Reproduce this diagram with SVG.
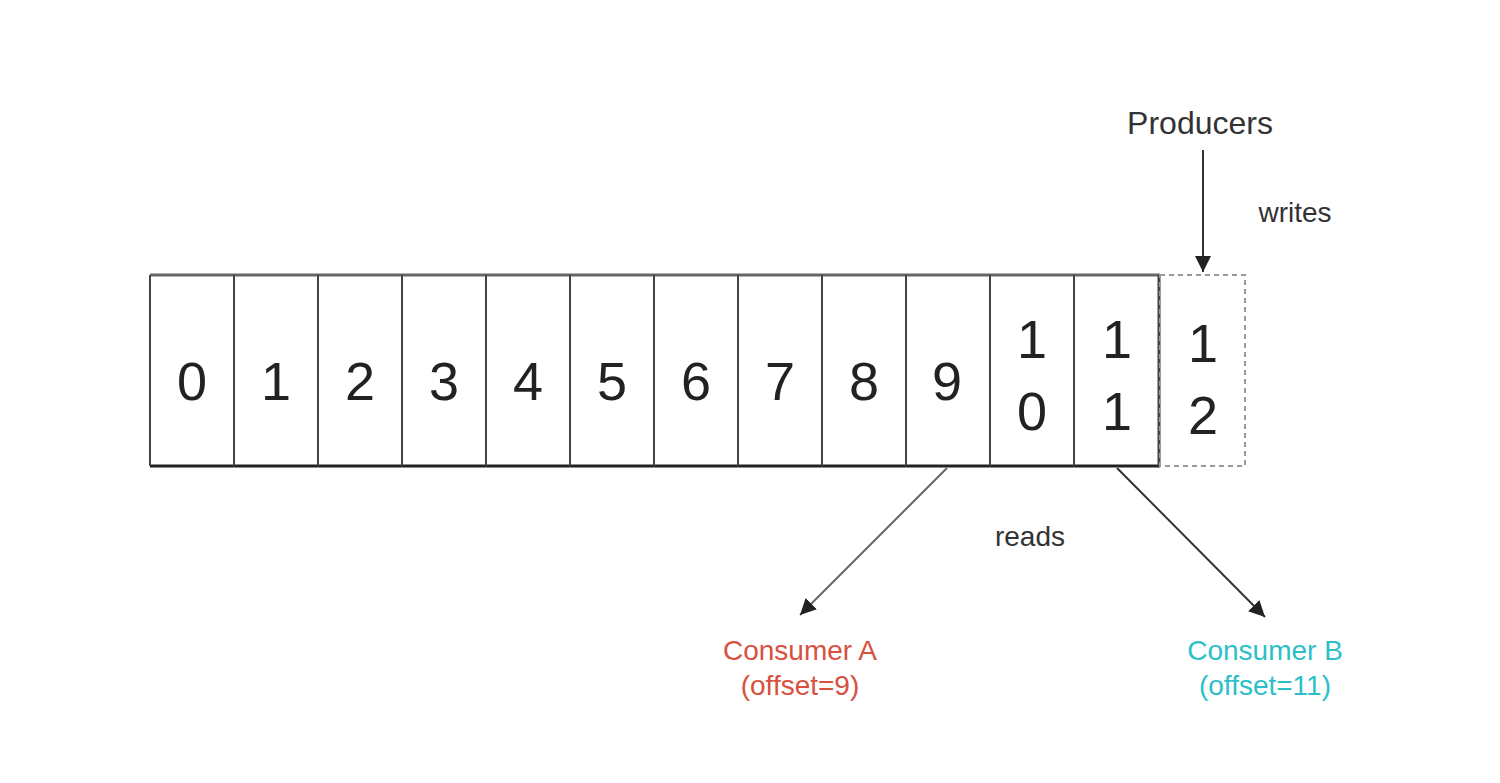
<svg xmlns="http://www.w3.org/2000/svg" width="1500" height="783" viewBox="0 0 1500 783">
<style>
text{font-family:"Liberation Sans",Arial,sans-serif;text-anchor:middle}
.d{font-size:54px;fill:#222}
.l{font-size:28px;fill:#333}
.cell{fill:none;stroke:#444;stroke-width:2}
.c{stroke:#333;stroke-width:2;fill:none;marker-end:url(#ah)}
</style>
<defs><marker id="ah" viewBox="0 0 10 10" refX="10" refY="5" markerWidth="8" markerHeight="8" orient="auto" markerUnits="userSpaceOnUse"><path d="M0,0L10,5L0,10z" fill="#222"/></marker>
<marker id="ahb" viewBox="0 0 10 10" refX="10" refY="5" markerWidth="16" markerHeight="16" orient="auto" markerUnits="userSpaceOnUse"><path d="M0,0L10,5L0,10z" fill="#222"/></marker></defs>
<rect width="1500" height="783" fill="#fff"/>
<g id="log">
<line x1="150" y1="275" x2="1160" y2="275" stroke="#666" stroke-width="3"/>
<line x1="150" y1="466" x2="1160" y2="466" stroke="#222" stroke-width="3"/>
<g class="cell">
<line x1="150" y1="275" x2="150" y2="466"/><line x1="234" y1="275" x2="234" y2="466"/><line x1="318" y1="275" x2="318" y2="466"/><line x1="402" y1="275" x2="402" y2="466"/><line x1="486" y1="275" x2="486" y2="466"/><line x1="570" y1="275" x2="570" y2="466"/><line x1="654" y1="275" x2="654" y2="466"/><line x1="738" y1="275" x2="738" y2="466"/><line x1="822" y1="275" x2="822" y2="466"/><line x1="906" y1="275" x2="906" y2="466"/><line x1="990" y1="275" x2="990" y2="466"/><line x1="1074" y1="275" x2="1074" y2="466"/><line x1="1159" y1="275" x2="1159" y2="466" stroke-width="3"/>
</g>
<rect x="1160" y="275" width="85" height="191" fill="none" stroke="#999" stroke-width="2" stroke-dasharray="5,4"/>
<text class="d" x="192" y="400">0</text><text class="d" x="276" y="400">1</text><text class="d" x="360" y="400">2</text><text class="d" x="444" y="400">3</text><text class="d" x="528" y="400">4</text><text class="d" x="612" y="400">5</text><text class="d" x="696" y="400">6</text><text class="d" x="780" y="400">7</text><text class="d" x="864" y="400">8</text><text class="d" x="947" y="400">9</text>
<text class="d" x="1032" y="358">1</text><text class="d" x="1032" y="430">0</text>
<text class="d" x="1117" y="358">1</text><text class="d" x="1117" y="430">1</text>
<text class="d" x="1203" y="362">1</text><text class="d" x="1203" y="434">2</text>
</g>
<g id="producers"><text class="l" x="1200" y="134" style="font-size:32px">Producers</text></g>
<g id="consumerA"><text class="l" x="800" y="660" style="fill:#d9503f">Consumer A</text><text class="l" x="800" y="695" style="fill:#d9503f">(offset=9)</text></g>
<g id="consumerB"><text class="l" x="1265" y="660" style="fill:#2cbfc8">Consumer B</text><text class="l" x="1265" y="695" style="fill:#2cbfc8">(offset=11)</text></g>
<g id="connectors">
<line class="c" x1="1203" y1="150" x2="1203" y2="272" style="marker-end:url(#ahb)"/>
<line class="c" x1="947" y1="468" x2="800" y2="615" style="stroke:#666;marker-end:url(#ahb)"/>
<line class="c" x1="1117" y1="468" x2="1265" y2="617" style="marker-end:url(#ahb)"/>
<text class="l" x="1295" y="222">writes</text>
<text class="l" x="1030" y="546">reads</text>
</g>
</svg>
